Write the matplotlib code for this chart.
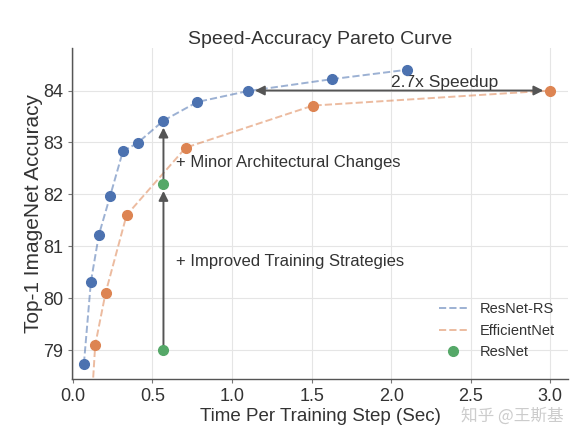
import matplotlib
matplotlib.use('Agg')
import matplotlib.pyplot as plt
from matplotlib.lines import Line2D

# data
rs_time = [0.069, 0.113, 0.163, 0.234, 0.314, 0.406, 0.569, 0.782, 1.10, 1.63, 2.10]
rs_acc = [78.74, 80.32, 81.22, 81.97, 82.83, 82.99, 83.42, 83.78, 83.99, 84.22, 84.40]

eff_time = [0.10, 0.14, 0.205, 0.337, 0.709, 1.508, 3.0]
eff_acc = [77.1, 79.1, 80.1, 81.6, 82.9, 83.71, 84.0]

resnet_time = [0.569, 0.569]
resnet_acc = [79.0, 82.2]

blue = '#4C72B0'
orange = '#DD8452'
green = '#55A868'
arrow_col = '#555555'
text_col = '#333333'

plt.rcParams['font.family'] = ['Liberation Sans', 'DejaVu Sans']
plt.rcParams['text.color'] = text_col
plt.rcParams['axes.labelcolor'] = text_col
plt.rcParams['xtick.color'] = '#777777'
plt.rcParams['ytick.color'] = '#777777'
plt.rcParams['xtick.labelcolor'] = text_col
plt.rcParams['ytick.labelcolor'] = text_col

fig = plt.figure(figsize=(5.77, 4.28), dpi=100)
ax = fig.add_axes([0.125, 0.115, 0.859, 0.773])

ax.plot(rs_time, rs_acc, '--', color=blue, alpha=0.55, lw=1.4, zorder=2)
ax.plot(eff_time, eff_acc, '--', color=orange, alpha=0.55, lw=1.4, zorder=2)
ax.plot(rs_time, rs_acc, 'o', color=blue, ms=7, zorder=4)
ax.plot(eff_time, eff_acc, 'o', color=orange, ms=7, zorder=4)
ax.plot(resnet_time, resnet_acc, 'o', color=green, ms=7, zorder=4)

# arrows
ax.annotate('', xy=(resnet_time[1], resnet_acc[1]), xytext=(resnet_time[0], resnet_acc[0]),
            arrowprops=dict(arrowstyle='-|>', color=arrow_col, lw=1.4, mutation_scale=14,
                            shrinkA=0, shrinkB=5), zorder=3)
ax.annotate('', xy=(rs_time[6], rs_acc[6]), xytext=(resnet_time[1], resnet_acc[1]),
            arrowprops=dict(arrowstyle='-|>', color=arrow_col, lw=1.4, mutation_scale=14,
                            shrinkA=0, shrinkB=5), zorder=3)
ax.annotate('', xy=(rs_time[8], 84.0), xytext=(eff_time[-1], 84.0),
            arrowprops=dict(arrowstyle='<|-|>', color=arrow_col, lw=1.4, mutation_scale=14,
                            shrinkA=5, shrinkB=5), zorder=3)

ax.text(0.65, 82.62, '+ Minor Architectural Changes', fontsize=12, va='center', ha='left')
ax.text(0.65, 80.70, '+ Improved Training Strategies', fontsize=12, va='center', ha='left')
ax.text(2.0, 84.15, '2.7x Speedup', fontsize=12.5, va='center', ha='left')

ax.set_xlim(-0.005, 3.11)
ax.set_ylim(78.45, 84.82)
ax.set_xticks([0.0, 0.5, 1.0, 1.5, 2.0, 2.5, 3.0])
ax.set_yticks([79, 80, 81, 82, 83, 84])
ax.tick_params(labelsize=13, length=3, width=0.8)
ax.grid(color='#e5e5e5', lw=0.8)
ax.set_axisbelow(True)
for s in ['top', 'right']:
    ax.spines[s].set_visible(False)
for s in ['left', 'bottom']:
    ax.spines[s].set_color('#555555')
    ax.spines[s].set_linewidth(1.0)

ax.set_title('Speed-Accuracy Pareto Curve', fontsize=14, color=text_col, pad=2)
ax.set_xlabel('Time Per Training Step (Sec)', fontsize=13.5, labelpad=2)
ax.set_ylabel('Top-1 ImageNet Accuracy', fontsize=15, labelpad=0)

handles = [
    Line2D([], [], ls='--', color=blue, alpha=0.55, lw=1.4),
    Line2D([], [], ls='--', color=orange, alpha=0.55, lw=1.4),
    Line2D([], [], ls='none', marker='o', color=green, ms=7),
]
ax.legend(handles, ['ResNet-RS', 'EfficientNet', 'ResNet'], loc='lower right',
          frameon=False, fontsize=10.5, bbox_to_anchor=(1.0, 0.02))

fig.text(0.977, 0.028, '知乎 @王斯基', fontsize=12, color='#cccccc', ha='right', va='center',
         family=['Noto Sans CJK SC', 'DejaVu Sans'])

fig.savefig('out.png', dpi=100)
